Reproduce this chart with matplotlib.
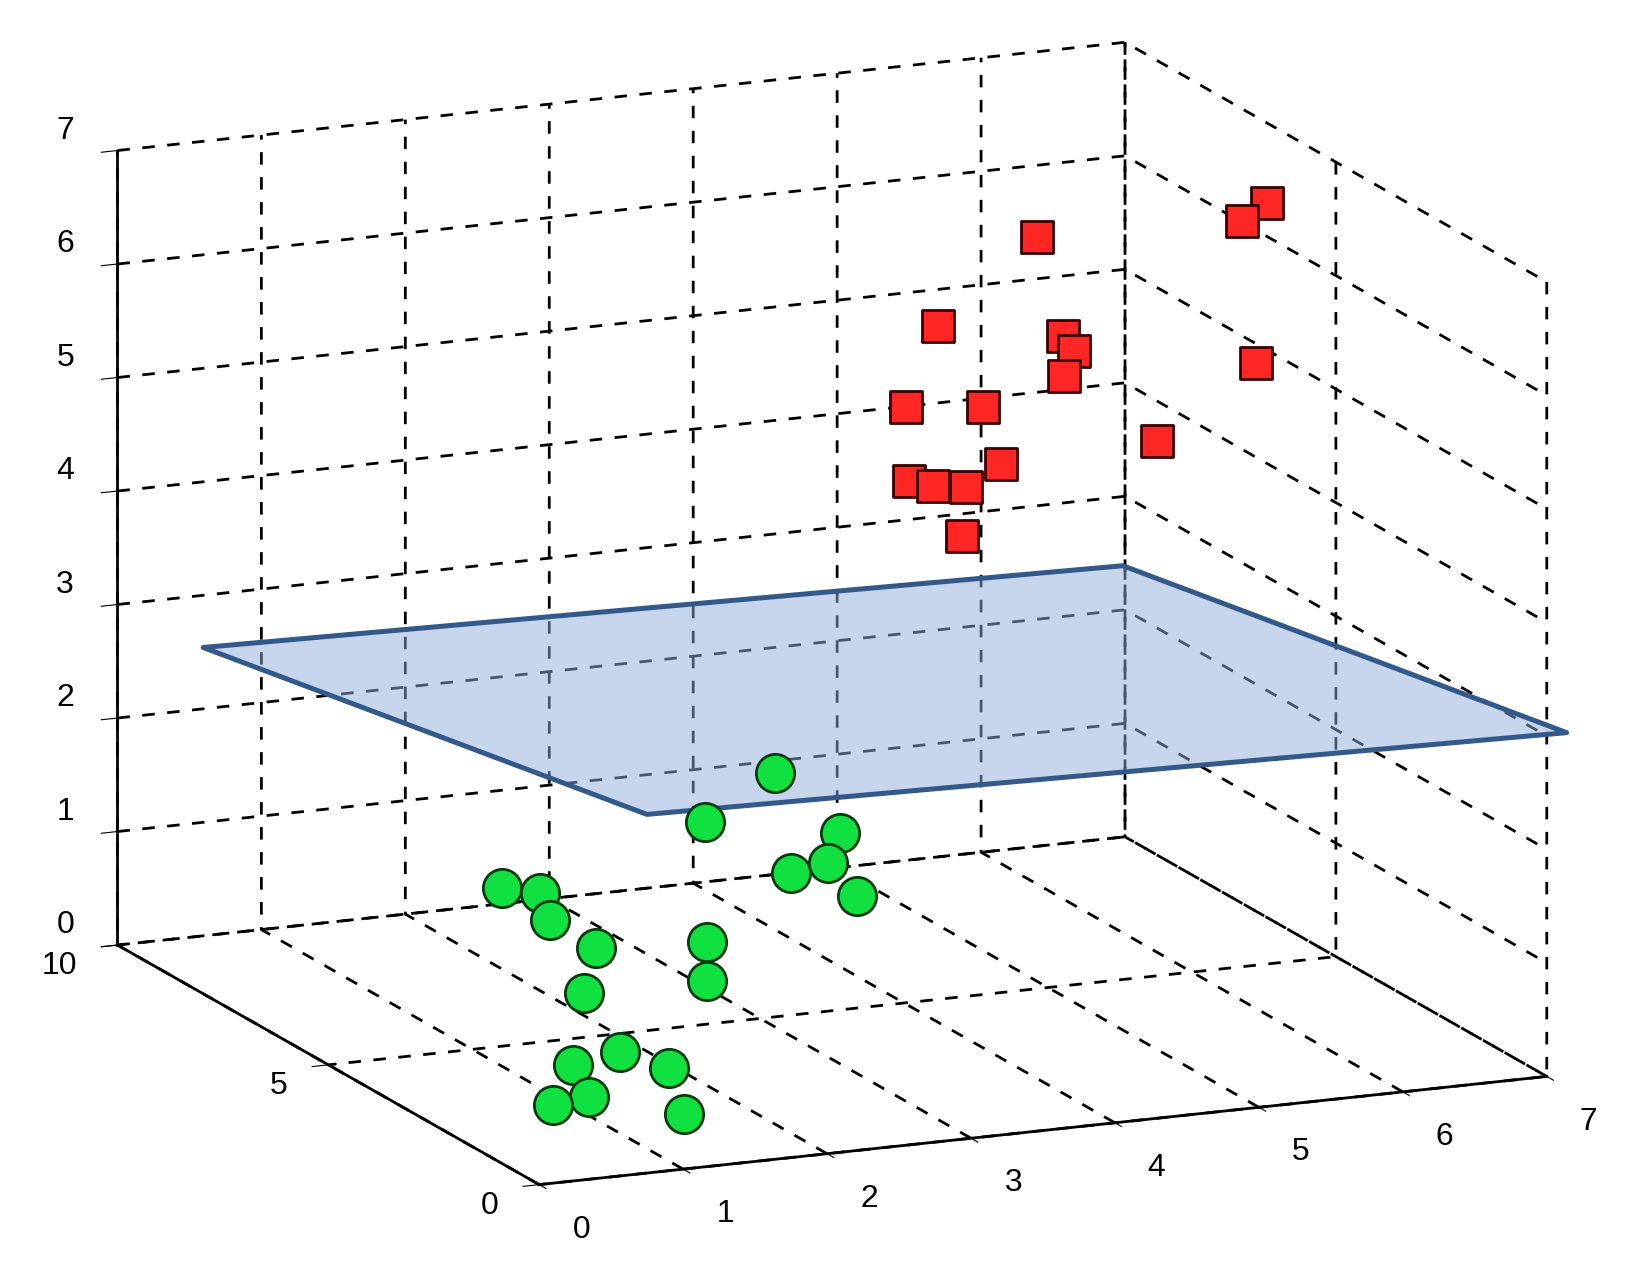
import matplotlib
matplotlib.use("Agg")
import matplotlib.pyplot as plt
import numpy as np
from mpl_toolkits.mplot3d.art3d import Poly3DCollection

plt.rcParams['font.family'] = ['Liberation Sans', 'DejaVu Sans']

# class 1 (green circles, below the plane)
green_x = [3.75, 3.30, 4.21, 3.95, 3.63, 4.01, 2.37, 2.54, 2.32, 2.30, 1.77, 2.43, 2.37, 1.48, 1.08, 1.61, 0.96, 0.67, 1.34]
green_y = [7.20, 7.33, 7.24, 6.63, 6.41, 6.16, 8.97, 8.65, 7.66, 6.50, 4.97, 4.31, 4.11, 3.14, 2.89, 2.42, 2.10, 1.96, 1.15]
green_z = [1.60, 1.20, 1.00, 0.90, 0.90, 0.70, 0.40, 0.40, 0.40, 0.40, 0.40, 0.90, 0.60, 0.30, 0.30, 0.30, 0.20, 0.20, 0.20]

# class 2 (red squares, above the plane)
red_x = [5.65, 6.55, 6.76, 5.32, 5.95, 5.86, 5.78, 6.57, 5.12, 5.57, 6.00, 5.44, 4.96, 5.05, 5.23, 5.05]
red_y = [7.48, 5.68, 5.82, 8.71, 7.89, 7.32, 7.28, 5.42, 8.77, 8.49, 5.84, 7.61, 8.15, 7.89, 7.73, 7.22]
red_z = [6.00, 6.40, 6.50, 5.00, 5.00, 5.00, 4.80, 5.20, 4.30, 4.30, 4.50, 4.00, 3.80, 3.80, 3.80, 3.50]

# separating plane corners
plane_x = [0.68, 7.07, 7.07, 0.68]
plane_y = [10.3, 10.3, -0.22, -0.22]
plane_z = [2.47, 2.32, 3.07, 3.22]

x_ticks = [0, 1, 2, 3, 4, 5, 6, 7]
y_ticks = [0, 5, 10]
z_ticks = [0, 1, 2, 3, 4, 5, 6, 7]

fig = plt.figure(figsize=(16.38, 12.61), dpi=100)
ax = fig.add_axes([-0.0024, 0, 1, 1], projection='3d', proj_type='ortho', computed_zorder=False)
ax.view_init(elev=14.3, azim=-113.5)
ax.set_box_aspect((1.34, 1.29, 1.0), zoom=1.333)
ax.set_xlim(0, 7)
ax.set_ylim(0, 10)
ax.set_zlim(0, 7)
ax.set_xticks(x_ticks)
ax.set_xticklabels([' ' + str(v) for v in x_ticks])
ax.set_yticks(y_ticks)
ax.set_zticks(z_ticks)
ax.tick_params(labelsize=23)
ax.tick_params(axis='x', pad=19.5)
ax.tick_params(axis='y', pad=11)
ax.tick_params(axis='z', pad=9.3)
for t in ax.get_xticklabels():
    t.set_ha('left')
    t.set_va('bottom')
for t in ax.get_yticklabels():
    t.set_ha('right')
    t.set_va('bottom')
for t in ax.get_zticklabels():
    t.set_ha('center')
    t.set_va('bottom')

for axis in (ax.xaxis, ax.yaxis, ax.zaxis):
    axis.set_pane_color((1, 1, 1, 1))
    axis.pane.set_edgecolor((1, 1, 1, 0))
    axis._axinfo['grid']['color'] = 'black'
    axis._axinfo['grid']['linewidth'] = 2.0
    axis._axinfo['grid']['linestyle'] = (0, (4.5, 4.5))
    axis.line.set_color('black')
    axis.line.set_linewidth(2.0)

verts = [list(zip(plane_x, plane_y, plane_z))]
plane = Poly3DCollection(verts, facecolors=[(0.56, 0.68, 0.85, 0.5)],
                         edgecolors=['#33598a'], linewidths=3.6, zorder=1)
plane.set_clip_on(False)
ax.add_collection3d(plane)

g = ax.scatter(green_x, green_y, green_z, marker='o', s=760, c='#10e040',
               edgecolors='#0a3a10', linewidths=2, depthshade=False, zorder=2)
r = ax.scatter(red_x, red_y, red_z, marker='s', s=540, c='#ff2626',
               edgecolors='#3a0000', linewidths=2, depthshade=False, zorder=3)
g.set_clip_on(False)
r.set_clip_on(False)

fig.savefig("out.png", dpi=100)
